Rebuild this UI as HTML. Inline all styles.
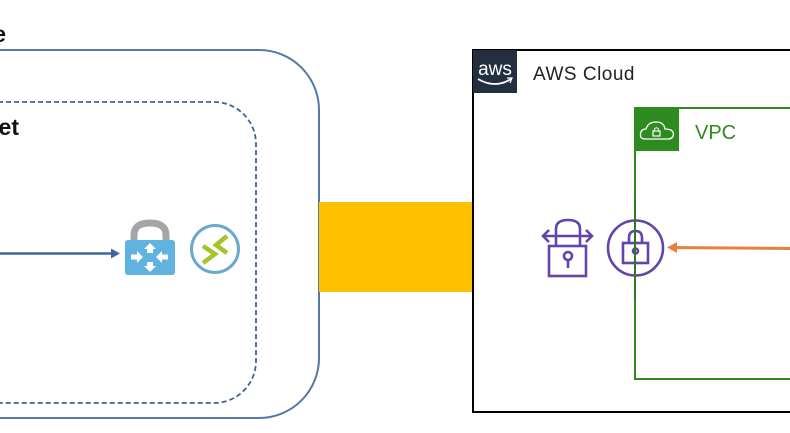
<!DOCTYPE html>
<html>
<head>
<meta charset="utf-8">
<style>
html,body{margin:0;padding:0;background:#fff;width:790px;height:433px;overflow:hidden}
svg{display:block}
text{font-family:"Liberation Sans",sans-serif}
</style>
</head>
<body>
<svg width="790" height="433" viewBox="0 0 790 433" xmlns="http://www.w3.org/2000/svg">
<rect width="790" height="433" fill="#fff"/>
<!-- outer container -->
<rect x="-100" y="50" width="419" height="368" rx="60" ry="60" fill="#fff" stroke="#5578a8" stroke-width="2"/>
<text x="6" y="42" text-anchor="end" font-size="23" font-weight="bold" fill="#111">e</text>
<!-- subnet -->
<rect x="-100" y="102" width="356" height="301" rx="42" ry="42" fill="#fff" stroke="#3f6498" stroke-width="1.800" stroke-dasharray="5 3"/>
<text x="19" y="135" text-anchor="end" font-size="23" font-weight="bold" fill="#111">et</text>
<!-- blue arrow -->
<line x1="0" y1="253.500" x2="113" y2="253.500" stroke="#3f66a4" stroke-width="2.600"/>
<path d="M111 248.500 L120 253.500 L111 258.500 Z" fill="#3f66a4"/>
<!-- gateway lock -->
<path d="M134 241 V235 Q134 223 150 223 Q166 223 166 235 V241" fill="none" stroke="#a3a5a8" stroke-width="7"/>
<rect x="125" y="240" width="50" height="35" rx="3" fill="#5fb3de"/>
<g fill="#fff">
<path d="M150 243 L156 249 H153 V253 H147 V249 H144 Z"/>
<path d="M150 272 L156 266 H153 V262 H147 V266 H144 Z"/>
<path d="M131 257 L137 251 V254.500 H143 V259.500 H137 V263 Z" transform="rotate(180 137 257)"/>
<path d="M156 257 L162 251 V254.500 H168 V259.500 H162 V263 Z"/>
</g>
<!-- VPN circle -->
<circle cx="215" cy="249" r="23.500" fill="#fff" stroke="#6aa9c9" stroke-width="3"/>
<path d="M203 246 L215 254 L203 263" fill="none" stroke="#a4c42c" stroke-width="4.500"/>
<path d="M227 236 L216 245 L227 253" fill="none" stroke="#a4c42c" stroke-width="4.500"/>
<!-- yellow link -->
<rect x="319" y="202" width="153" height="90" fill="#ffc000"/>
<!-- AWS cloud -->
<rect x="473" y="50" width="400" height="362" fill="#fff" stroke="#000" stroke-width="2"/>
<rect x="473" y="50" width="44" height="43" fill="#232f3e"/>
<text x="495" y="75" text-anchor="middle" font-size="19" fill="#fff">aws</text>
<path d="M478 79 Q495 89 511 79" fill="none" stroke="#fff" stroke-width="1.800"/>
<path d="M507 78 L512 78 L510 83" fill="none" stroke="#fff" stroke-width="1.200"/>
<text x="533" y="80" font-size="19" letter-spacing="0.500" fill="#222">AWS Cloud</text>
<!-- VPC -->
<rect x="635" y="108" width="300" height="271" fill="none" stroke="#2f8a1f" stroke-width="2"/>
<rect x="635" y="108" width="44" height="43" fill="#2e8b1f"/>
<path d="M645 139 Q640 139 640.500 134 Q641 129 646 129 Q648 122 656 122 Q664 122 665 129 Q673 129 673.500 134 Q673 139 668 139 Z" fill="none" stroke="#fff" stroke-width="1.300"/>
<rect x="653" y="131" width="7" height="5" fill="none" stroke="#fff" stroke-width="1.200"/>
<path d="M654.500 131 V129 Q656.500 126.500 658.500 129 V131" fill="none" stroke="#fff" stroke-width="1"/>
<text x="695" y="139" font-size="20" fill="#2f8a1f">VPC</text>
<!-- VPN gateway icon -->
<g fill="none" stroke="#6344a8" stroke-width="2.600">
<path d="M556 237 V229 Q556 220 568 220 Q580 220 580 229 V237"/>
<path d="M544 236 H591"/>
<path d="M549 230 L543 236 L549 242"/>
<path d="M586 230 L592 236 L586 242"/>
<path d="M556 236 V246 M580 236 V246"/>
<rect x="549" y="246" width="37" height="30"/>
<circle cx="568" cy="256" r="4"/>
<path d="M568 260 V268"/>
<!-- circle lock -->
<circle cx="635.500" cy="248" r="27.500"/>
<rect x="623" y="243" width="25" height="20"/>
<path d="M629 243 V238 Q629 231 635.500 231 Q642 231 642 238 V243"/>
<circle cx="635.500" cy="251" r="2.500"/>
</g>
<line x1="635" y1="200" x2="635" y2="300" stroke="#2f7a20" stroke-width="2"/>
<!-- orange arrow -->
<line x1="790" y1="248.500" x2="672" y2="247.500" stroke="#e8813c" stroke-width="3"/>
<path d="M667 247.500 L677 242 V253 Z" fill="#e8813c"/>
</svg>
</body>
</html>
